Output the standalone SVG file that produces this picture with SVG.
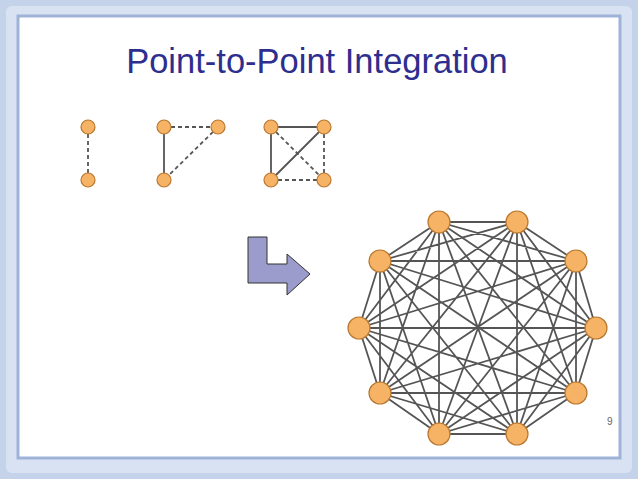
<svg xmlns="http://www.w3.org/2000/svg" width="638" height="479" viewBox="0 0 638 479">
<style>
.n{fill:#f6b265;stroke:#b9782f;stroke-width:1.2}
.s{stroke:#555;stroke-width:1.8;fill:none}
.d{stroke:#555;stroke-width:1.8;fill:none;stroke-dasharray:4 3}
</style>
<rect width="638" height="479" fill="#c5d3ea"/>
<rect x="6" y="6" width="626" height="467" fill="#d9e2f2" rx="6"/>
<rect x="18" y="16" width="602" height="442" fill="#fff" stroke="#9fb3d8" stroke-width="3"/>
<text x="317" y="73" text-anchor="middle" font-family="Liberation Sans, sans-serif" font-size="34.5" fill="#2e2e8e">Point-to-Point Integration</text>
<g id="connectors">
<path class="d" d="M88 127L88 180"/>
<path class="d" d="M164 127L218 127M218 127L164 180"/>
<path class="s" d="M164 127L164 180"/>
<path class="s" d="M271 127L324 127M271 127L271 180M324 127L271 180"/>
<path class="d" d="M271 127L324 180M324 127L324 180M271 180L324 180"/>
<path class="s" stroke="#4a4a4a" stroke-width="2.4" d="M439 222L517 222 M439 222L576 261 M439 222L596 328 M439 222L576 393 M439 222L517 434 M439 222L439 434 M439 222L380 393 M439 222L359 328 M439 222L380 261 M517 222L576 261 M517 222L596 328 M517 222L576 393 M517 222L517 434 M517 222L439 434 M517 222L380 393 M517 222L359 328 M517 222L380 261 M576 261L596 328 M576 261L576 393 M576 261L517 434 M576 261L439 434 M576 261L380 393 M576 261L359 328 M576 261L380 261 M596 328L576 393 M596 328L517 434 M596 328L439 434 M596 328L380 393 M596 328L359 328 M596 328L380 261 M576 393L517 434 M576 393L439 434 M576 393L380 393 M576 393L359 328 M576 393L380 261 M517 434L439 434 M517 434L380 393 M517 434L359 328 M517 434L380 261 M439 434L380 393 M439 434L359 328 M439 434L380 261 M380 393L359 328 M380 393L380 261 M359 328L380 261"/>
</g>
<g id="g1"><circle class="n" cx="88" cy="127" r="7"/><circle class="n" cx="88" cy="180" r="7"/></g>
<g id="g2"><circle class="n" cx="164" cy="127" r="7"/><circle class="n" cx="218" cy="127" r="7"/><circle class="n" cx="164" cy="180" r="7"/></g>
<g id="g3"><circle class="n" cx="271" cy="127" r="7"/><circle class="n" cx="324" cy="127" r="7"/><circle class="n" cx="271" cy="180" r="7"/><circle class="n" cx="324" cy="180" r="7"/></g>
<g id="arrow"><polygon points="248,237 267,237 267,264 287,264 287,254 310,274 287,295 287,283 248,283" fill="#9b9bcc" stroke="#333" stroke-width="1"/></g>
<g id="mesh">
<circle class="n" cx="439" cy="222" r="11"/><circle class="n" cx="517" cy="222" r="11"/><circle class="n" cx="576" cy="261" r="11"/><circle class="n" cx="596" cy="328" r="11"/><circle class="n" cx="576" cy="393" r="11"/><circle class="n" cx="517" cy="434" r="11"/><circle class="n" cx="439" cy="434" r="11"/><circle class="n" cx="380" cy="393" r="11"/><circle class="n" cx="359" cy="328" r="11"/><circle class="n" cx="380" cy="261" r="11"/>
</g>
<text x="607" y="425" font-family="Liberation Sans, sans-serif" font-size="10" fill="#666">9</text>
</svg>
